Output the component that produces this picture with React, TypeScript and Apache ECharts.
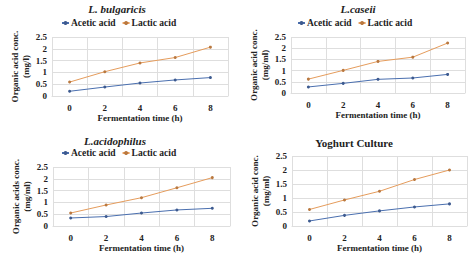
import React, { useEffect, useRef } from "react";
import * as echarts from "echarts";

// Fermentation time points (h)
const hours = ["0", "2", "4", "6", "8"];

// Organic acid concentrations per culture
const bulgaricusAcetic = [0.2, 0.38, 0.55, 0.68, 0.78];
const bulgaricusLactic = [0.59, 1.03, 1.4, 1.63, 2.07];
const caseiAcetic = [0.27, 0.43, 0.61, 0.67, 0.83];
const caseiLactic = [0.62, 1.01, 1.41, 1.6, 2.23];
const acidophilusAcetic = [0.34, 0.4, 0.55, 0.68, 0.75];
const acidophilusLactic = [0.55, 0.89, 1.2, 1.62, 2.05];
const yoghurtAcetic = [0.18, 0.38, 0.54, 0.68, 0.79];
const yoghurtLactic = [0.59, 0.93, 1.24, 1.66, 2.0];

const panelTitles = ["L. bulgaricis", "L.caseii", "L.acidophilus", "Yoghurt Culture"];
const yNames = [
  "Organic acid conc.\n(mg/l)",
  "Organic acid conc.\n(mg/ml)",
  "Organic acids conc.\n(mg/ml)",
  "Organic acid conc.\n(mg/ml)",
];
const xName = "Fermentation time (h)";
const seriesNames = ["Acetic acid", "Lactic acid"];

const BLUE = "#4A6FAF";
const ORANGE = "#E59C5C";
const FONT = "Liberation Serif";
const GRID_LINE = "#dedede";

export default function App() {
  const ref = useRef<HTMLDivElement>(null);

  useEffect(() => {
    if (!ref.current) return;
    const chart = echarts.init(ref.current, undefined, { renderer: "svg" });

    const grids = [
      { left: 52, top: 37, width: 176, height: 59 },
      { left: 291, top: 37, width: 174, height: 56 },
      { left: 53, top: 167, width: 177, height: 59 },
      { left: 292, top: 156, width: 175, height: 70 },
    ];
    const titlePos = [
      { x: 117, y: 3 },
      { x: 358, y: 3 },
      { x: 115, y: 135 },
      { x: 354, y: 137 },
    ];
    const legendPos = [
      { x: 61, y: 18 },
      { x: 297, y: 18 },
      { x: 61, y: 148 },
    ];
    const data = [
      [bulgaricusAcetic, bulgaricusLactic],
      [caseiAcetic, caseiLactic],
      [acidophilusAcetic, acidophilusLactic],
      [yoghurtAcetic, yoghurtLactic],
    ];

    const textBold = { fontFamily: FONT, fontWeight: "bold" as const, color: "#222" };

    chart.setOption({
      animation: false,
      backgroundColor: "#fff",
      title: panelTitles.map((t, i) => ({
        text: t,
        left: titlePos[i].x,
        top: titlePos[i].y,
        textAlign: "center",
        padding: 0,
        textStyle: {
          ...textBold,
          fontSize: 11,
          fontStyle: i === 3 ? "normal" : "italic",
        },
      })),
      legend: legendPos.map((p) => ({
        data: seriesNames,
        left: p.x,
        top: p.y,
        orient: "horizontal",
        itemWidth: 7,
        itemHeight: 5,
        itemGap: 6,
        padding: 0,
        textStyle: { ...textBold, fontSize: 9.5, padding: [0, 0, 0, -3] },
      })),
      grid: grids,
      xAxis: grids.map((_, i) => ({
        type: "category",
        gridIndex: i,
        data: hours,
        boundaryGap: true,
        name: xName,
        nameLocation: "middle",
        nameGap: 17,
        nameTextStyle: { ...textBold, fontSize: 9 },
        axisLine: { show: true, lineStyle: { color: GRID_LINE } },
        axisTick: { show: false },
        axisLabel: { ...textBold, fontSize: 9, margin: 7 },
        splitLine: { show: true, lineStyle: { color: GRID_LINE, width: 1 } },
      })),
      yAxis: grids.map((_, i) => ({
        type: "value",
        gridIndex: i,
        min: 0,
        max: 2.5,
        interval: 0.5,
        name: yNames[i],
        nameLocation: "middle",
        nameGap: 12,
        nameTextStyle: { ...textBold, fontSize: 9, lineHeight: 11 },
        axisLine: { show: false },
        axisTick: { show: false },
        axisLabel: { ...textBold, fontSize: 9, margin: 5 },
        splitLine: { show: true, lineStyle: { color: GRID_LINE, width: 1 } },
      })),
      series: data.flatMap((pair, i) =>
        pair.map((vals, j) => ({
          type: "line",
          name: seriesNames[j],
          xAxisIndex: i,
          yAxisIndex: i,
          data: vals,
          symbol: "circle",
          symbolSize: 3,
          color: j === 0 ? BLUE : ORANGE,
          lineStyle: { width: 1, color: j === 0 ? BLUE : ORANGE },
          itemStyle: { color: j === 0 ? "#3d5a8f" : "#b9783f" },
        }))
      ),
    });

    return () => chart.dispose();
  }, []);

  return (
    <div
      ref={ref}
      style={{ position: "fixed", left: 0, top: 0, width: 474, height: 257, background: "#fff" }}
    />
  );
}
